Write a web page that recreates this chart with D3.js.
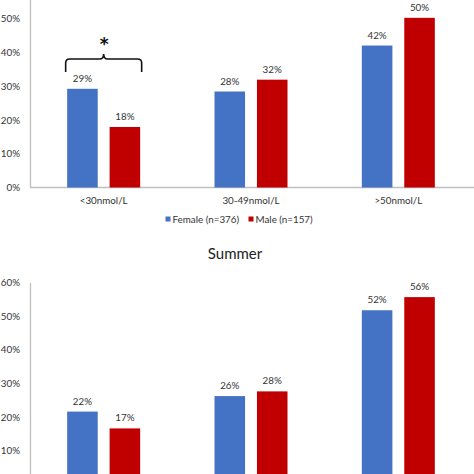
<!DOCTYPE html>
<html><head><meta charset="utf-8">
<script src="https://cdn.jsdelivr.net/npm/d3@7"></script>
<style>html,body{margin:0;padding:0;background:#fff;overflow:hidden}</style>
</head><body>
<svg id="c" width="474" height="474"></svg>
<script>
const categories = ["<30nmol/L", "30-49nmol/L", ">50nmol/L"];
const series = ["Female (n=376)", "Male (n=157)"];
const colors = ["#4472C4", "#C00000"];
const winterFemale = [29.2, 28.4, 42.0];
const winterMale = [17.9, 31.9, 50.2];
const summerFemale = [21.6, 26.2, 51.7];
const summerMale = [16.6, 27.6, 55.6];
const yTicks = [0, 10, 20, 30, 40, 50, 60];
const summerTitle = "Summer";

const svg = d3.select("#c");
const font = "Lato, 'Open Sans', sans-serif";
const textCol = "#333";
const fs = 9.8;

const x = d3.scaleBand().domain(categories).range([30, 472]);
const x1 = d3.scaleBand().domain(series).range([x.bandwidth()/2 - 36.5, x.bandwidth()/2 + 36.5]).paddingInner(0.28);

function panel(fem, mal, y0, y60, showX) {
  const y = d3.scaleLinear().domain([0, 60]).range([y0, y60]);
  const g = svg.append("g");
  const visTicks = yTicks.filter(t => y(t) > 5 && y(t) < 469);
  const ya = g.append("g").attr("transform", "translate(30,0)")
    .call(d3.axisLeft(y).tickValues(visTicks).tickSize(0).tickPadding(10).tickFormat(d => d + "%"));
  ya.select(".domain").attr("stroke", "#BFBFBF").attr("stroke-width", 1.3);
  ya.selectAll("text").attr("font-family", font).attr("font-size", fs).attr("fill", textCol);
  const xa = g.append("g").attr("transform", `translate(0,${y0})`)
    .call(d3.axisBottom(x).tickSize(0).tickPadding(10));
  xa.select(".domain").attr("stroke", "#BFBFBF").attr("stroke-width", 1.3).attr("d", `M30,0H474`);
  xa.selectAll("text").attr("font-family", font).attr("font-size", fs).attr("fill", textCol)
    .style("display", showX ? null : "none");
  const rows = categories.map((c, i) => ({c, vals: [fem[i], mal[i]]}));
  const grp = g.selectAll(".grp").data(rows).join("g").attr("transform", d => `translate(${x(d.c)},0)`);
  grp.selectAll("rect").data(d => d.vals.map((v, j) => ({v, s: series[j], j}))).join("rect")
    .attr("x", d => x1(d.s)).attr("width", x1.bandwidth())
    .attr("y", d => y(d.v)).attr("height", d => y0 - y(d.v))
    .attr("fill", d => colors[d.j]);
  grp.selectAll("text.lbl").data(d => d.vals.map((v, j) => ({v, s: series[j], j}))).join("text")
    .attr("class", "lbl")
    .attr("x", d => x1(d.s) + x1.bandwidth()/2).attr("y", d => y(d.v) - 7)
    .attr("text-anchor", "middle").attr("font-family", font).attr("font-size", fs).attr("fill", textCol)
    .text(d => Math.round(d.v) + "%");
  return y;
}

panel(winterFemale, winterMale, 187.5, 187.5 - 6*33.8, true);
panel(summerFemale, summerMale, 484.3, 282.3, false);

// legend
const leg = svg.append("g").attr("font-family", font).attr("font-size", fs).attr("fill", textCol);
const legX = [165.5, 248.5];
series.forEach((s, i) => {
  leg.append("rect").attr("x", legX[i]).attr("y", 216.5).attr("width", 5).attr("height", 5).attr("fill", colors[i]);
  leg.append("text").attr("x", legX[i] + 7).attr("y", 222.5).text(s);
});

// summer title
svg.append("text").attr("x", 235).attr("y", 258.5).attr("text-anchor", "middle")
  .attr("font-family", font).attr("font-size", 15).attr("fill", "#222").text(summerTitle);

// significance bracket over first group (winter)
const bx0 = x(categories[0]) + x1(series[0]) - 1.5;
const bx1 = x(categories[0]) + x1(series[1]) + x1.bandwidth() + 1.5;
const bm = (bx0 + bx1) / 2;
const by = 59, bb = 72, r = 4;
const p = d3.path();
p.moveTo(bx0, bb); p.lineTo(bx0, by + r); p.quadraticCurveTo(bx0, by, bx0 + r, by);
p.lineTo(bm - r, by); p.quadraticCurveTo(bm, by, bm, by - 5);
p.quadraticCurveTo(bm, by, bm + r, by);
p.lineTo(bx1 - r, by); p.quadraticCurveTo(bx1, by, bx1, by + r); p.lineTo(bx1, bb);
svg.append("path").attr("d", p.toString()).attr("fill", "none").attr("stroke", "#111").attr("stroke-width", 1.6);
svg.append("text").attr("x", bm + 0.5).attr("y", 50).attr("text-anchor", "middle")
  .attr("font-family", "'DejaVu Sans', sans-serif").attr("font-weight", "bold").attr("font-size", 17).attr("fill", "#111").text("*");
</script>
</body></html>
